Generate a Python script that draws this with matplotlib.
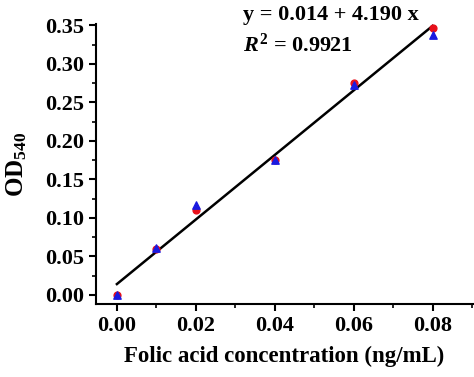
import numpy as np
import matplotlib
matplotlib.use('Agg')
import matplotlib.pyplot as plt
from matplotlib.ticker import MultipleLocator

# data
conc = [0.00, 0.01, 0.02, 0.04, 0.06, 0.08]
od_red = [0.000, 0.060, 0.110, 0.175, 0.275, 0.346]
od_blue = [0.000, 0.061, 0.117, 0.175, 0.272, 0.338]
intercept = 0.014
slope = 4.190
r2 = 0.9921

plt.rcParams['font.family'] = 'Liberation Serif'
plt.rcParams['font.weight'] = 'bold'
plt.rcParams['mathtext.fontset'] = 'custom'
plt.rcParams['mathtext.rm'] = 'Liberation Serif:bold'
plt.rcParams['mathtext.it'] = 'Liberation Serif:italic:bold'
plt.rcParams['mathtext.bf'] = 'Liberation Serif:bold'

fig = plt.figure(figsize=(4.74, 3.77), dpi=100)
ax = fig.add_axes([0.2025, 0.194, 0.795, 0.742])

# fit line
xf = np.array([conc[0], conc[-1]])
ax.plot(xf, intercept + slope * xf, color='black', lw=1.8, zorder=1)

ax.scatter(conc, od_red, marker='o', s=24, color='#e8101a', zorder=2)
ax.scatter(conc, od_blue, marker='^', s=28, color='#1a1ae0', zorder=3)

ax.set_xlim(-0.0053, 0.0902)
ax.set_ylim(-0.0117, 0.3515)
ax.xaxis.set_major_locator(MultipleLocator(0.02))
ax.xaxis.set_minor_locator(MultipleLocator(0.01))
ax.yaxis.set_major_locator(MultipleLocator(0.05))
ax.yaxis.set_minor_locator(MultipleLocator(0.025))
ax.xaxis.set_major_formatter(plt.FormatStrFormatter('%.2f'))
ax.yaxis.set_major_formatter(plt.FormatStrFormatter('%.2f'))

for s in ['top', 'right']:
    ax.spines[s].set_visible(False)
for s in ['left', 'bottom']:
    ax.spines[s].set_linewidth(1.5)

ax.tick_params(which='major', direction='out', length=5, width=1.5, labelsize=16)
ax.tick_params(which='minor', direction='out', length=3, width=1.2)
for lab in ax.get_xticklabels() + ax.get_yticklabels():
    lab.set_fontweight('bold')

ax.set_xlabel('Folic acid concentration (ng/mL)', fontsize=16.5, fontweight='bold', labelpad=7)
ax.set_ylabel('OD$_{540}$', fontsize=18, fontweight='bold', labelpad=12)

fig.text(0.513, 0.947, 'y = 0.014 + 4.190 x', fontsize=16, fontweight='bold', va='baseline')
fig.text(0.513, 0.862, '$R^2$ = %.4f' % r2, fontsize=16, fontweight='bold', va='baseline')

fig.savefig('out.png', dpi=100)
